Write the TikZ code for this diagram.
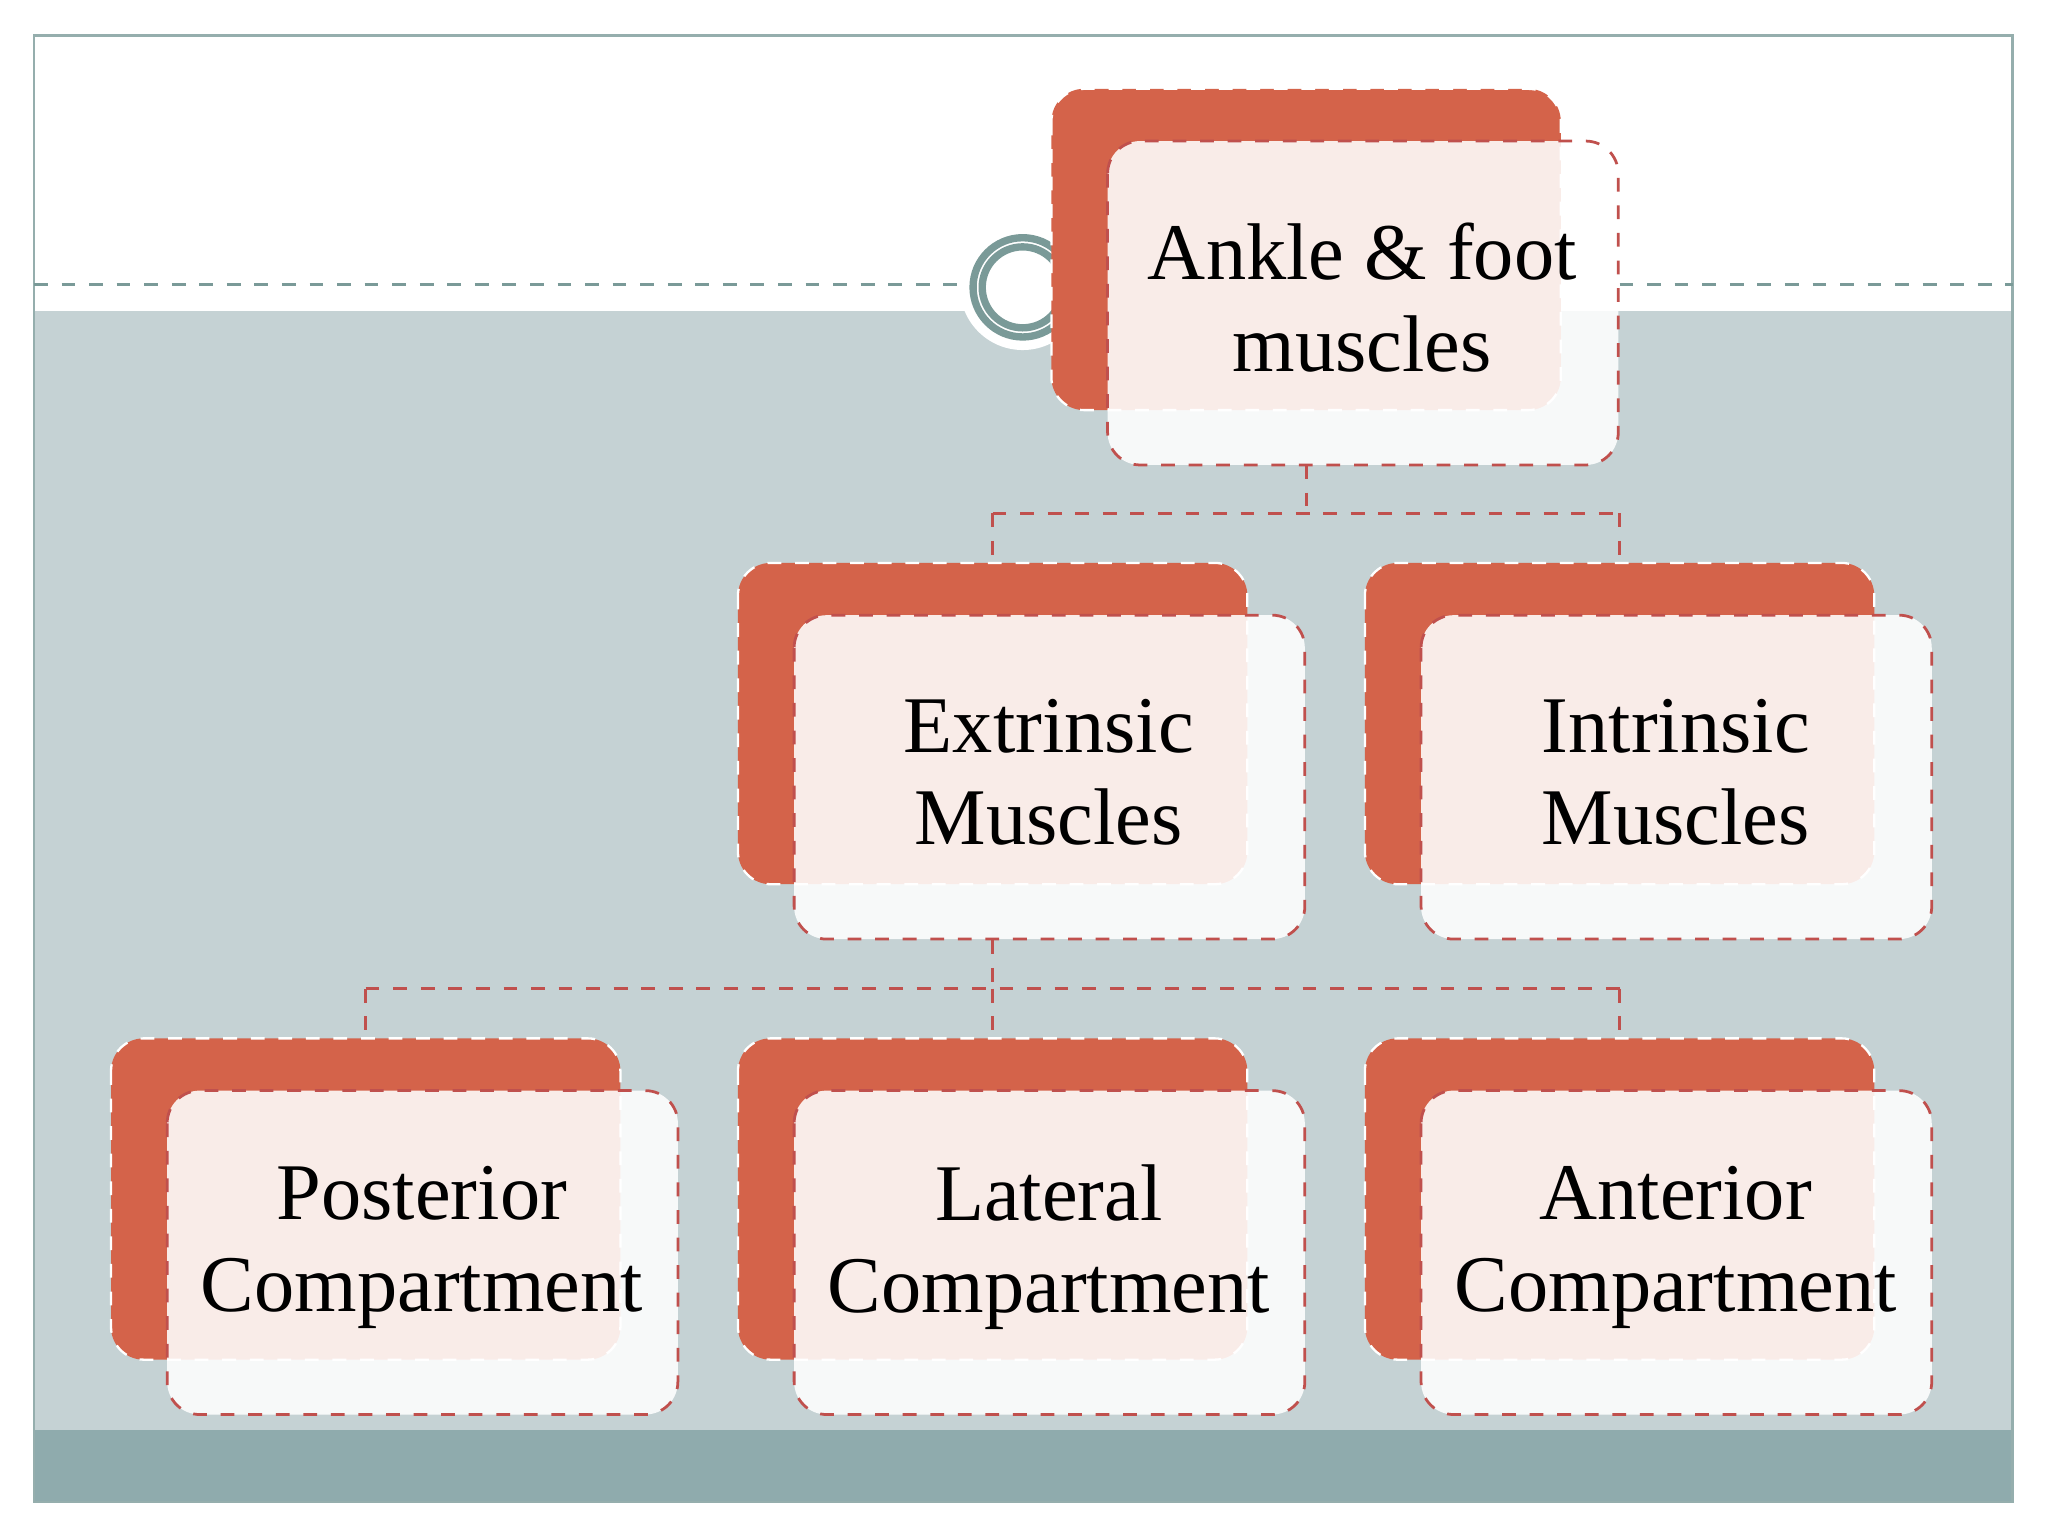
\documentclass[tikz,border=0pt]{standalone}
\usepackage{fontspec}
\setmainfont{Liberation Serif}
\begin{document}
\begin{tikzpicture}[x=0.01cm,y=-0.01cm,
  backbox/.style={draw=white,dashed,line width=0.5pt,fill=boxorange,rounded corners=0.25cm},
  frontbox/.style={draw=linered,dashed,line width=0.6pt,fill=white,fill opacity=0.88,rounded corners=0.25cm},
  lbl/.style={font=\fontsize{17.5}{20}\selectfont,align=center,text opacity=1},
  conn/.style={draw=linered,dashed,line width=0.7pt}]
\definecolor{boxorange}{HTML}{D4634A}
\definecolor{linered}{HTML}{C0504D}
\definecolor{bggray}{HTML}{C5D2D4}
\definecolor{bandgray}{HTML}{8FABAD}
\definecolor{teal}{HTML}{7A9A98}
\useasboundingbox (0,0) rectangle (1568,1176);
\fill[white] (0,0) rectangle (1568,1176);
\fill[bggray] (26,238) rectangle (1541,1095);
\fill[bandgray] (26,1095) rectangle (1541,1150);
\draw[teal!80,line width=0.6pt] (26,27) rectangle (1541,1150);
\draw[teal,dashed,line width=0.6pt] (26,218) -- (735,218);
\draw[teal,dashed,line width=0.6pt] (1240,218) -- (1541,218);
\fill[white] (783,220) circle (48);
\draw[teal,line width=1.6pt] (783,220) circle (38);
\draw[teal,line width=1.6pt] (783,220) circle (31);
% connectors
\coordinate (t1) at (1000,393);
\coordinate (t2) at (760,757);
\draw[conn] (1000,356) -- (t1);
\draw[conn] (760,393) -- (1240,393);
\draw[conn] (760,393) -- (760,431);
\draw[conn] (1240,393) -- (1240,431);
\draw[conn] (760,720) -- (t2);
\draw[conn] (280,757) -- (1240,757);
\draw[conn] (280,757) -- (280,795);
\draw[conn] (760,757) -- (760,795);
\draw[conn] (1240,757) -- (1240,795);
% boxes
\newcommand{\mybox}[4]{%
  \draw[backbox] (#1,#2) rectangle ++(390,246);
  \draw[frontbox] (#1+43,#2+40) rectangle ++(391,248);
  \node[lbl] (#3) at (#1+238,#2+160) {#4};}
\mybox{805}{68}{top}{Ankle \& foot\\muscles}
\mybox{565}{431}{ext}{Extrinsic\\Muscles}
\mybox{1045}{431}{int}{Intrinsic\\Muscles}
\mybox{85}{795}{post}{Posterior\\Compartment}
\mybox{565}{795}{lat}{Lateral\\Compartment}
\mybox{1045}{795}{ant}{Anterior\\Compartment}
\end{tikzpicture}
\end{document}
